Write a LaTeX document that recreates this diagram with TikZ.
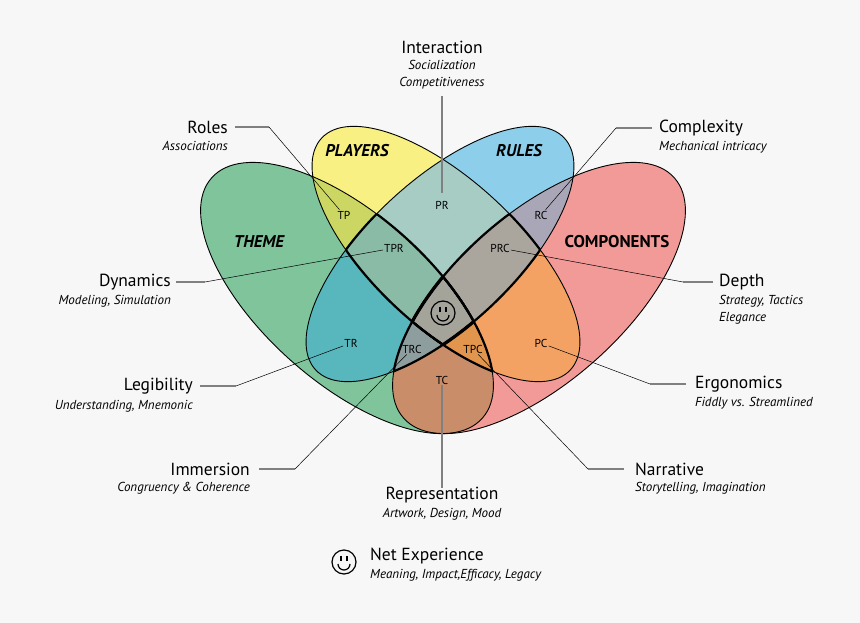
\documentclass[tikz,border=0pt]{standalone}
\usepackage{fontspec}
\setmainfont{PT Sans}
\usetikzlibrary{positioning}

\definecolor{bgcol}{HTML}{F7F7F7}
\definecolor{colT}{HTML}{7FC49B}
\definecolor{colP}{HTML}{F8F082}
\definecolor{colR}{HTML}{8DCFEA}
\definecolor{colC}{HTML}{F29A97}
\definecolor{colTP}{HTML}{CBD762}
\definecolor{colTR}{HTML}{57B7BC}
\definecolor{colTC}{HTML}{C98D69}
\definecolor{colPR}{HTML}{A6CCC3}
\definecolor{colPC}{HTML}{F4A263}
\definecolor{colRC}{HTML}{A9A7B7}
\definecolor{colTPR}{HTML}{8ABBA6}
\definecolor{colTPC}{HTML}{E2954D}
\definecolor{colTRC}{HTML}{8E9E9F}
\definecolor{colPRC}{HTML}{AAA69E}
\definecolor{colAll}{HTML}{A5A49B}

% the four sets
\newcommand\ellT{[rotate around={-41.6:(347,298)}] (347,298) ellipse [x radius=181, y radius=84]}
\newcommand\ellC{[rotate around={41.6:(539,298)}] (539,298) ellipse [x radius=181, y radius=84]}
\newcommand\ellP{[rotate around={-43:(446,254)}] (446,254) ellipse [x radius=170, y radius=73]}
\newcommand\ellR{[rotate around={43:(440,254)}] (440,254) ellipse [x radius=170, y radius=73]}

% fill the part of #3 inside #1 and #2
\newcommand\overlap[4]{\begin{scope}\clip #1;\clip #2;\fill[#4] #3;\end{scope}}

\tikzset{
  head/.style={font=\fontsize{17.5}{19}\selectfont, inner sep=1pt},
  sub/.style={font=\fontsize{13}{17}\selectfont\itshape, inner sep=1pt, align=center},
  reg/.style={font=\fontsize{11.5}{12}\selectfont, inner sep=1pt},
  title/.style={font=\fontsize{17}{19}\selectfont\bfseries\itshape},
  lead/.style={draw=gray, line width=1.6pt},
  pin/.style={draw=black, line width=0.5pt},
  rim/.style={line width=2.2pt},
  smiley/.pic={
    \draw[line width=1.2pt] (0,0) circle [radius=12];
    \draw[line width=1.2pt] (-3,-6) -- (-3,-1) (3,-6) -- (3,-1);
    \draw[line width=1.2pt] (-6,2) arc [start angle=180, end angle=360, x radius=6, y radius=-6];
  }
}

\begin{document}
\begin{tikzpicture}[x=1pt, y=-1pt]
\fill[bgcol] (0,0) rectangle (860,623);
\useasboundingbox (0,0) rectangle (860,623);

% single sets
\fill[colT] \ellT;
\fill[colC] \ellC;
\fill[colP] \ellP;
\fill[colR] \ellR;

% pairs
\begin{scope}\clip \ellT; \fill[colTP] \ellP; \end{scope}
\begin{scope}\clip \ellT; \fill[colTR] \ellR; \end{scope}
\begin{scope}\clip \ellT; \fill[colTC] \ellC; \end{scope}
\begin{scope}\clip \ellP; \fill[colPR] \ellR; \end{scope}
\begin{scope}\clip \ellP; \fill[colPC] \ellC; \end{scope}
\begin{scope}\clip \ellR; \fill[colRC] \ellC; \end{scope}

% triples and the middle
\overlap{\ellT}{\ellP}{\ellR}{colTPR}
\overlap{\ellT}{\ellP}{\ellC}{colTPC}
\overlap{\ellT}{\ellR}{\ellC}{colTRC}
\overlap{\ellP}{\ellR}{\ellC}{colPRC}
\begin{scope}\clip \ellT; \clip \ellP; \clip \ellR; \fill[colAll] \ellC; \end{scope}

% outlines
\draw[line width=0.9pt] \ellT;
\draw[line width=0.9pt] \ellC;
\draw[line width=0.9pt] \ellP;
\draw[line width=0.9pt] \ellR;
\begin{scope}\clip \ellT; \clip \ellP; \draw[rim] \ellR; \draw[rim] \ellC; \end{scope}
\begin{scope}\clip \ellT; \clip \ellR; \draw[rim] \ellP; \draw[rim] \ellC; \end{scope}
\begin{scope}\clip \ellT; \clip \ellC; \draw[rim] \ellP; \draw[rim] \ellR; \end{scope}
\begin{scope}\clip \ellP; \clip \ellR; \draw[rim] \ellT; \draw[rim] \ellC; \end{scope}
\begin{scope}\clip \ellP; \clip \ellC; \draw[rim] \ellT; \draw[rim] \ellR; \end{scope}
\begin{scope}\clip \ellR; \clip \ellC; \draw[rim] \ellT; \draw[rim] \ellP; \end{scope}
\begin{scope}\clip \ellT; \clip \ellP; \clip \ellR; \draw[line width=3.2pt] \ellC; \end{scope}
\begin{scope}\clip \ellT; \clip \ellP; \clip \ellC; \draw[line width=3.2pt] \ellR; \end{scope}

% set titles
\node[title] (players) at (357,151) {PLAYERS};
\node[title] (rules) at (519,151) {RULES};
\node[title] (theme) at (259,242) {THEME};
\node[title, font=\fontsize{17}{19}\selectfont\bfseries] (components) at (617,242) {COMPONENTS};

% region labels
\node[reg] (tp) at (344,215) {TP};
\node[reg] (pr) at (442,205) {PR};
\node[reg] (rc) at (541,215) {RC};
\node[reg] (tpr) at (394,248) {TPR};
\node[reg] (prc) at (500,248) {PRC};
\node[reg] (tr) at (351,343) {TR};
\node[reg] (pc) at (541,343) {PC};
\node[reg] (trc) at (412,349) {TRC};
\node[reg] (tpc) at (473,349) {TPC};
\node[reg] (tc) at (442,380) {TC};
\pic at (443,313) {smiley};

% outer labels
\node[head] (interaction) at (442,47) {Interaction};
\node[sub] (social) at (442,75) {Socialization\\Competitiveness};
\draw[lead] (442,96) -- (442,193);

\node[head, anchor=east] (roles) at (229,127) {Roles};
\node[sub, anchor=east] at (229,146) {Associations};
\draw[lead] ([xshift=6pt]roles.east) -- ++(34,0) coordinate (rolesk);
\draw[pin] (rolesk) -- (tp);

\node[head, anchor=west] (complexity) at (658,128) {Complexity};
\node[sub, anchor=west] at (658,147) {Mechanical intricacy};
\draw[lead] ([xshift=-6pt]complexity.west) -- ++(-36,0) coordinate (complexk);
\draw[pin] (complexk) -- (rc);

\node[head, anchor=east] (dynamics) at (172,282) {Dynamics};
\node[sub, anchor=east] at (172,301) {Modeling, Simulation};
\draw[lead] ([xshift=4pt]dynamics.east) -- ++(29,0) coordinate (dynk);
\draw[pin] (dynk) -- (tpr);

\node[head, anchor=west] (depth) at (718,282) {Depth};
\node[sub, anchor=west, align=left] at (718,310) {Strategy, Tactics\\Elegance};
\draw[lead] ([xshift=-5pt]depth.west) -- ++(-30,0) coordinate (depthk);
\draw[pin] (depthk) -- (prc);

\node[head, anchor=east] (legibility) at (194,386) {Legibility};
\node[sub, anchor=east] at (194,406) {Understanding, Mnemonic};
\draw[lead] ([xshift=6pt]legibility.east) -- ++(36,0) coordinate (legk);
\draw[pin] (legk) -- (tr);

\node[head, anchor=west] (ergonomics) at (694,384) {Ergonomics};
\node[sub, anchor=west] at (694,403) {Fiddly vs. Streamlined};
\draw[lead] ([xshift=-8pt]ergonomics.west) -- ++(-36,0) coordinate (ergk);
\draw[pin] (ergk) -- (pc);

\node[head, anchor=east] (immersion) at (251,469) {Immersion};
\node[sub, anchor=east] at (251,488) {Congruency \& Coherence};
\draw[lead] ([xshift=8pt]immersion.east) -- ++(36,0) coordinate (immk);
\draw[pin] (immk) -- (trc);

\node[head, anchor=west] (narrative) at (634,469) {Narrative};
\node[sub, anchor=west] at (634,488) {Storytelling, Imagination};
\draw[lead] ([xshift=-10pt]narrative.west) -- ++(-36,0) coordinate (narrk);
\draw[pin] (narrk) -- (tpc);

\node[head] (representation) at (442,495) {Representation};
\node[sub] at (442,514) {Artwork, Design, Mood};
\draw[lead] (tc) -- ([yshift=-2pt]representation.north);

\pic at (344,562) {smiley};
\node[head, anchor=west] (net) at (369,556) {Net Experience};
\node[sub, anchor=west] at (369,575) {Meaning, Impact,Efficacy, Legacy};
\end{tikzpicture}
\end{document}
